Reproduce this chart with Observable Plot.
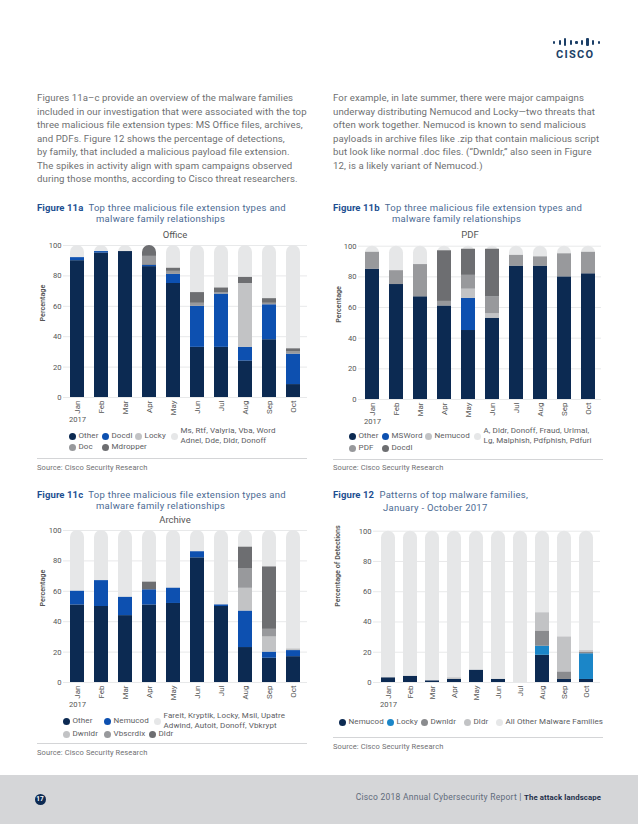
<!DOCTYPE html>
<html><head><meta charset="utf-8">
<script src="https://cdn.jsdelivr.net/npm/d3@7"></script>
<script src="https://cdn.jsdelivr.net/npm/@observablehq/plot@0.6"></script>
<style>
body{margin:0;width:638px;height:826px;position:relative;background:#fff;font-family:Roboto,"Liberation Sans",sans-serif;overflow:hidden}
.abs{position:absolute}
.para{font-size:9.6px;line-height:13.5px;color:#6e6f71;white-space:nowrap;letter-spacing:0.1px}
.ftitle{font-size:9.5px;line-height:11px;color:#4b6a93;white-space:nowrap;letter-spacing:0.28px}
.ftitle b{color:#1d4f91;font-weight:700;letter-spacing:0.1px}
.ctitle{font-size:9.5px;color:#555;text-align:center}
.sep{height:1px;background:#d4d5d7}
.source{font-size:7.5px;color:#707173;white-space:nowrap;letter-spacing:0.1px}
.leg{font-size:8px;color:#5c5d5f;white-space:nowrap;line-height:10px;display:flex;align-items:center;transform:translateY(-50%);letter-spacing:0.1px}
.leg .dot{width:7px;height:7px;border-radius:50%;margin-right:3px;flex:none}
.logo{display:flex;align-items:center;height:8px}
.logo span{display:block;width:2.2px;background:#1c3f67;margin-right:3.4px;border-radius:1px}
</style></head><body>
<div id="page"></div>
<script>
// ---------- shared ----------
const months = ["Jan","Feb","Mar","Apr","May","Jun","Jul","Aug","Sep","Oct"];
const yTicks = [0,20,40,60,80,100];
const yearLabel = "2017";

// ---------- Figure 11a — Office ----------
const officeSeries = ["Other","Docdl","Locky","Doc","Mdropper","Ms, Rtf, Valyria, Vba, Word\nAdnel, Dde, Dldr, Donoff"];
const officeOther    = [90, 95, 96, 86, 75, 33, 33, 24, 38, 8.5];
const officeDocdl    = [ 2,  1,  0,  1,  6, 27, 35,  9, 23, 20];
const officeLocky    = [ 0,  0,  0,  0,  0,  0,  0, 42,  0,  0];
const officeDoc      = [ 0,  0,  0,  6,  2,  2,  1,  0,  1, 1.5];
const officeMdropper = [ 0,  0,  0,  7,  2,  7,  3,  4,  3,  2];
const officeRest     = [ 8,  4,  4,  0, 15, 31, 28, 21, 35, 68];

// ---------- Figure 11b — PDF ----------
const pdfSeries = ["Other","MSWord","Nemucod","PDF","Docdl","A, Dldr, Donoff, Fraud, Urlmal,\nLg, Malphish, Pdfphish, Pdfuri"];
const pdfOther   = [85, 75, 67, 61, 45, 53, 87, 87, 80, 82];
const pdfMSWord  = [ 0,  0,  0,  0, 21,  0,  0,  0,  0,  0];
const pdfNemucod = [ 0,  0,  0,  0,  6,  3,  0,  0,  0,  0];
const pdfPDF     = [11,  9, 21,  3,  9, 11,  7,  6, 15, 14];
const pdfDocdl   = [ 0,  0,  0, 33, 17, 31,  0,  0,  0,  0];
const pdfRest    = [ 4, 16, 12,  3,  2,  2,  6,  7,  5,  4];

// ---------- Figure 11c — Archive ----------
const archiveSeries = ["Other","Nemucod","Dwnldr","Vbscrdix","Dldr","Fareit, Kryptik, Locky, Msil, Upatre\nAdwind, Autoit, Donoff, Vbkrypt"];
const archiveOther    = [51, 50, 44, 51, 52, 82, 50, 23, 16, 17];
const archiveNemucod  = [ 9, 17, 12, 10, 10,  4,  1, 24,  4,  4];
const archiveDwnldr   = [ 0,  0,  0,  0,  0,  0,  0, 15, 10,  1];
const archiveVbscrdix = [ 0,  0,  0,  0,  0,  0,  0, 13,  5,  0];
const archiveDldr     = [ 0,  0,  0,  5,  0,  0,  0, 14, 41,  0];
const archiveRest     = [40, 33, 44, 34, 38, 14, 49, 11, 24, 78];

// ---------- Figure 12 — top malware families ----------
const familySeries = ["Nemucod","Locky","Dwnldr","Dldr","All Other Malware Families"];
const famNemucod = [ 3,  4,  1,  2,  8,  2,   0, 18,  2,  2];
const famLocky   = [ 0,  0,  0,  0,  0,  0,   0,  6,  0, 17];
const famDwnldr  = [ 0,  0,  0,  0,  0,  0,   0, 10,  5,  1];
const famDldr    = [ 0,  0,  0,  1,  0,  0,   0, 12, 23,  1];
const famOther   = [97, 96, 99, 97, 92, 98, 100, 54, 70, 79];

// ---------- styles (colours) ----------
const navy = "#0c2a52", blue = "#0d50b0", lightBlue = "#1b86c8";
const gLight = "#e6e7e8", g1 = "#c2c3c5", g2 = "#98999c", g3 = "#6d6e71";
const officeColors  = [navy, blue, g1, g2, g3, gLight];
const pdfColors     = [navy, blue, g1, g2, g3, gLight];
const archiveColors = [navy, blue, g1, g2, g3, gLight];
const familyColors  = [navy, lightBlue, "#8a8b8e", g1, gLight];

const page = document.getElementById("page");
function el(tag, cls, css, html) {
  const e = document.createElement(tag);
  if (cls) e.className = cls;
  Object.assign(e.style, css || {});
  if (html != null) e.innerHTML = html;
  page.appendChild(e);
  return e;
}

// ---------- chart builder ----------
function makeChart(cfg) {
  const {series, values, colors, width, height, ml, mr, mt, mb, padIn, padOut, yLabel, yLabelDx} = cfg;
  const rows = series.flatMap((s, i) => months.map((m, j) => ({month: m, series: s, value: values[i][j]})));
  const tops = months.map((m, j) => {
    let k = series.length - 1;
    while (k > 0 && !(values[k][j] > 0)) k--;
    return {month: m, series: series[k], total: d3.sum(values, v => v[j])};
  });
  const topOf = new Map(tops.map(d => [d.month, d.series]));
  const lower = rows.filter(d => d.series !== topOf.get(d.month) && d.value > 0);
  const fw = width - ml - mr;
  const step = fw / (months.length - padIn + 2 * padOut);
  const rx = step * (1 - padIn) / 2;
  return Plot.plot({
    width, height, marginLeft: ml, marginRight: mr, marginTop: mt, marginBottom: mb,
    style: {fontFamily: "Roboto, 'Liberation Sans', sans-serif", fontSize: "7.6px", color: "#555", background: "transparent", overflow: "visible"},
    x: {domain: months, paddingInner: padIn, paddingOuter: padOut, axis: null},
    y: {domain: [0, 100], axis: null},
    color: {domain: series, range: colors},
    marks: [
      Plot.gridY(yTicks, {stroke: "#e8e9ea", strokeOpacity: 1}),
      Plot.barY(tops, {x: "month", y1: 0, y2: "total", fill: "series", rx}),
      Plot.barY(tops, {x: "month", y1: 0, y2: d => d.total / 2, fill: "series"}),
      Plot.barY(lower, Plot.stackY({x: "month", y: "value", fill: "series"})),
      Plot.axisY(yTicks, {tickSize: 0, tickPadding: 2, label: null}),
      Plot.axisX({tickSize: 0, tickRotate: -90, tickPadding: 3, label: null, fontSize: 8}),
      Plot.text([yearLabel], {x: [months[0]], frameAnchor: "bottom", dy: 24, fontSize: 7.6}),
      Plot.text([yLabel], {frameAnchor: "left", rotate: -90, dx: yLabelDx, fontWeight: 600, fontSize: 7.2})
    ]
  });
}

function place(svg, left, top) {
  const d = el("div", "abs", {left: left + "px", top: top + "px"});
  d.appendChild(svg);
}

function legend(series, colors, rowsSpec) {
  rowsSpec.forEach(r => {
    r.names.forEach((name, i) => {
      const c = colors[series.indexOf(name)];
      el("div", "abs leg", {left: (r.xs[i] - 3.5) + "px", top: r.y + "px"},
        `<span class="dot" style="background:${c}"></span><span>${name.split("\n").join("<br>")}</span>`);
    });
  });
}

// ---------- header ----------
const logo = el("div", "abs logo", {left: "553px", top: "38px"});
[3, 5, 7.5, 5, 3, 5, 7.5, 5, 3].forEach(h => { const s = document.createElement("span"); s.style.height = h + "px"; logo.appendChild(s); });
el("div", "abs", {left: "556px", top: "48px", fontSize: "11px", fontWeight: "700", letterSpacing: "1.3px", color: "#1c3f67"}, "CISCO");

el("div", "abs para", {left: "37px", top: "91px"},
  "Figures 11a–c provide an overview of the malware families<br>" +
  "included in our investigation that were associated with the top<br>" +
  "three malicious file extension types: MS Office files, archives,<br>" +
  "and PDFs. Figure 12 shows the percentage of detections,<br>" +
  "by family, that included a malicious payload file extension.<br>" +
  "The spikes in activity align with spam campaigns observed<br>" +
  "during those months, according to Cisco threat researchers.");
el("div", "abs para", {left: "333px", top: "91px"},
  "For example, in late summer, there were major campaigns<br>" +
  "underway distributing Nemucod and Locky—two threats that<br>" +
  "often work together. Nemucod is known to send malicious<br>" +
  "payloads in archive files like .zip that contain malicious script<br>" +
  "but look like normal .doc files. (“Dwnldr,” also seen in Figure<br>" +
  "12, is a likely variant of Nemucod.)");

// ---------- Figure 11a ----------
el("div", "abs ftitle", {left: "37px", top: "201.5px"},
  "<b>Figure 11a</b>&nbsp; Top three malicious file extension types and<br><span style='padding-left:59px'>malware family relationships</span>");
el("div", "abs ctitle", {left: "30px", top: "229px", width: "290px"}, "Office");
place(makeChart({series: officeSeries, values: [officeOther, officeDocdl, officeLocky, officeDoc, officeMdropper, officeRest],
  colors: officeColors, width: 282, height: 187, ml: 33, mr: 5, mt: 5, mb: 30, padIn: 0.433, padOut: 0.16,
  yLabel: "Percentage", yLabelDx: -21}), 30, 240);
legend(officeSeries, officeColors, [
  {y: 436, xs: [72, 105, 138, 174], names: ["Other", "Docdl", "Locky", officeSeries[5]]},
  {y: 447, xs: [72, 105], names: ["Doc", "Mdropper"]}
]);
el("div", "abs sep", {left: "37px", top: "458px", width: "270px"});
el("div", "abs source", {left: "37px", top: "463px"}, "Source: Cisco Security Research");

// ---------- Figure 11b ----------
el("div", "abs ftitle", {left: "333px", top: "201.5px"},
  "<b>Figure 11b</b>&nbsp; Top three malicious file extension types and<br><span style='padding-left:59px'>malware family relationships</span>");
el("div", "abs ctitle", {left: "325px", top: "229px", width: "290px"}, "PDF");
place(makeChart({series: pdfSeries, values: [pdfOther, pdfMSWord, pdfNemucod, pdfPDF, pdfDocdl, pdfRest],
  colors: pdfColors, width: 282, height: 189, ml: 33, mr: 6, mt: 5.7, mb: 30, padIn: 0.433, padOut: 0.16,
  yLabel: "Percentage", yLabelDx: -20}), 325, 240);
legend(pdfSeries, pdfColors, [
  {y: 436, xs: [352, 385, 428, 477], names: ["Other", "MSWord", "Nemucod", pdfSeries[5]]},
  {y: 448, xs: [352, 385], names: ["PDF", "Docdl"]}
]);
el("div", "abs sep", {left: "333px", top: "459px", width: "270px"});
el("div", "abs source", {left: "333px", top: "463px"}, "Source: Cisco Security Research");

// ---------- Figure 11c ----------
el("div", "abs ftitle", {left: "37px", top: "488.5px"},
  "<b>Figure 11c</b>&nbsp; Top three malicious file extension types and<br><span style='padding-left:59px'>malware family relationships</span>");
el("div", "abs ctitle", {left: "30px", top: "514px", width: "290px"}, "Archive");
place(makeChart({series: archiveSeries, values: [archiveOther, archiveNemucod, archiveDwnldr, archiveVbscrdix, archiveDldr, archiveRest],
  colors: archiveColors, width: 282, height: 187, ml: 33, mr: 5, mt: 5, mb: 30, padIn: 0.433, padOut: 0.16,
  yLabel: "Percentage", yLabelDx: -21}), 30, 525);
legend(archiveSeries, archiveColors, [
  {y: 721, xs: [66, 107, 157], names: ["Other", "Nemucod", archiveSeries[5]]},
  {y: 734, xs: [66, 107, 152], names: ["Dwnldr", "Vbscrdix", "Dldr"]}
]);
el("div", "abs sep", {left: "37px", top: "743px", width: "270px"});
el("div", "abs source", {left: "37px", top: "748px"}, "Source: Cisco Security Research");

// ---------- Figure 12 ----------
el("div", "abs ftitle", {left: "333px", top: "488px", lineHeight: "13px"},
  "<b>Figure 12</b>&nbsp; Patterns of top malware families,<br><span style='padding-left:50px'>January - October 2017</span>");
place(makeChart({series: familySeries, values: [famNemucod, famLocky, famDwnldr, famDldr, famOther],
  colors: familyColors, width: 282, height: 187, ml: 48, mr: 7, mt: 5.7, mb: 30, padIn: 0.382, padOut: 0.2,
  yLabel: "Percentage of Detections", yLabelDx: -36}), 325, 525);
legend(familySeries, familyColors, [
  {y: 722, xs: [342, 390, 424, 467, 499], names: familySeries}
]);
el("div", "abs sep", {left: "333px", top: "737px", width: "270px"});
el("div", "abs source", {left: "333px", top: "742px"}, "Source: Cisco Security Research");

// ---------- footer ----------
el("div", "abs", {left: "0px", top: "775px", width: "638px", height: "49px", background: "#d5d6d8"});
el("div", "abs", {left: "34.5px", top: "793.5px", width: "11px", height: "11px", borderRadius: "50%", background: navy, color: "#fff", fontSize: "6.5px", lineHeight: "11px", textAlign: "center", fontWeight: "700"}, "17");
el("div", "abs", {right: "37px", top: "792px", fontSize: "8.5px", color: "#5f6b7b", whiteSpace: "nowrap", letterSpacing: "0.25px"},
  "Cisco 2018 Annual Cybersecurity Report | <b style='color:#1f2f4a;font-size:7.8px;letter-spacing:0.1px'>The attack landscape</b>");
</script>
</body></html>
